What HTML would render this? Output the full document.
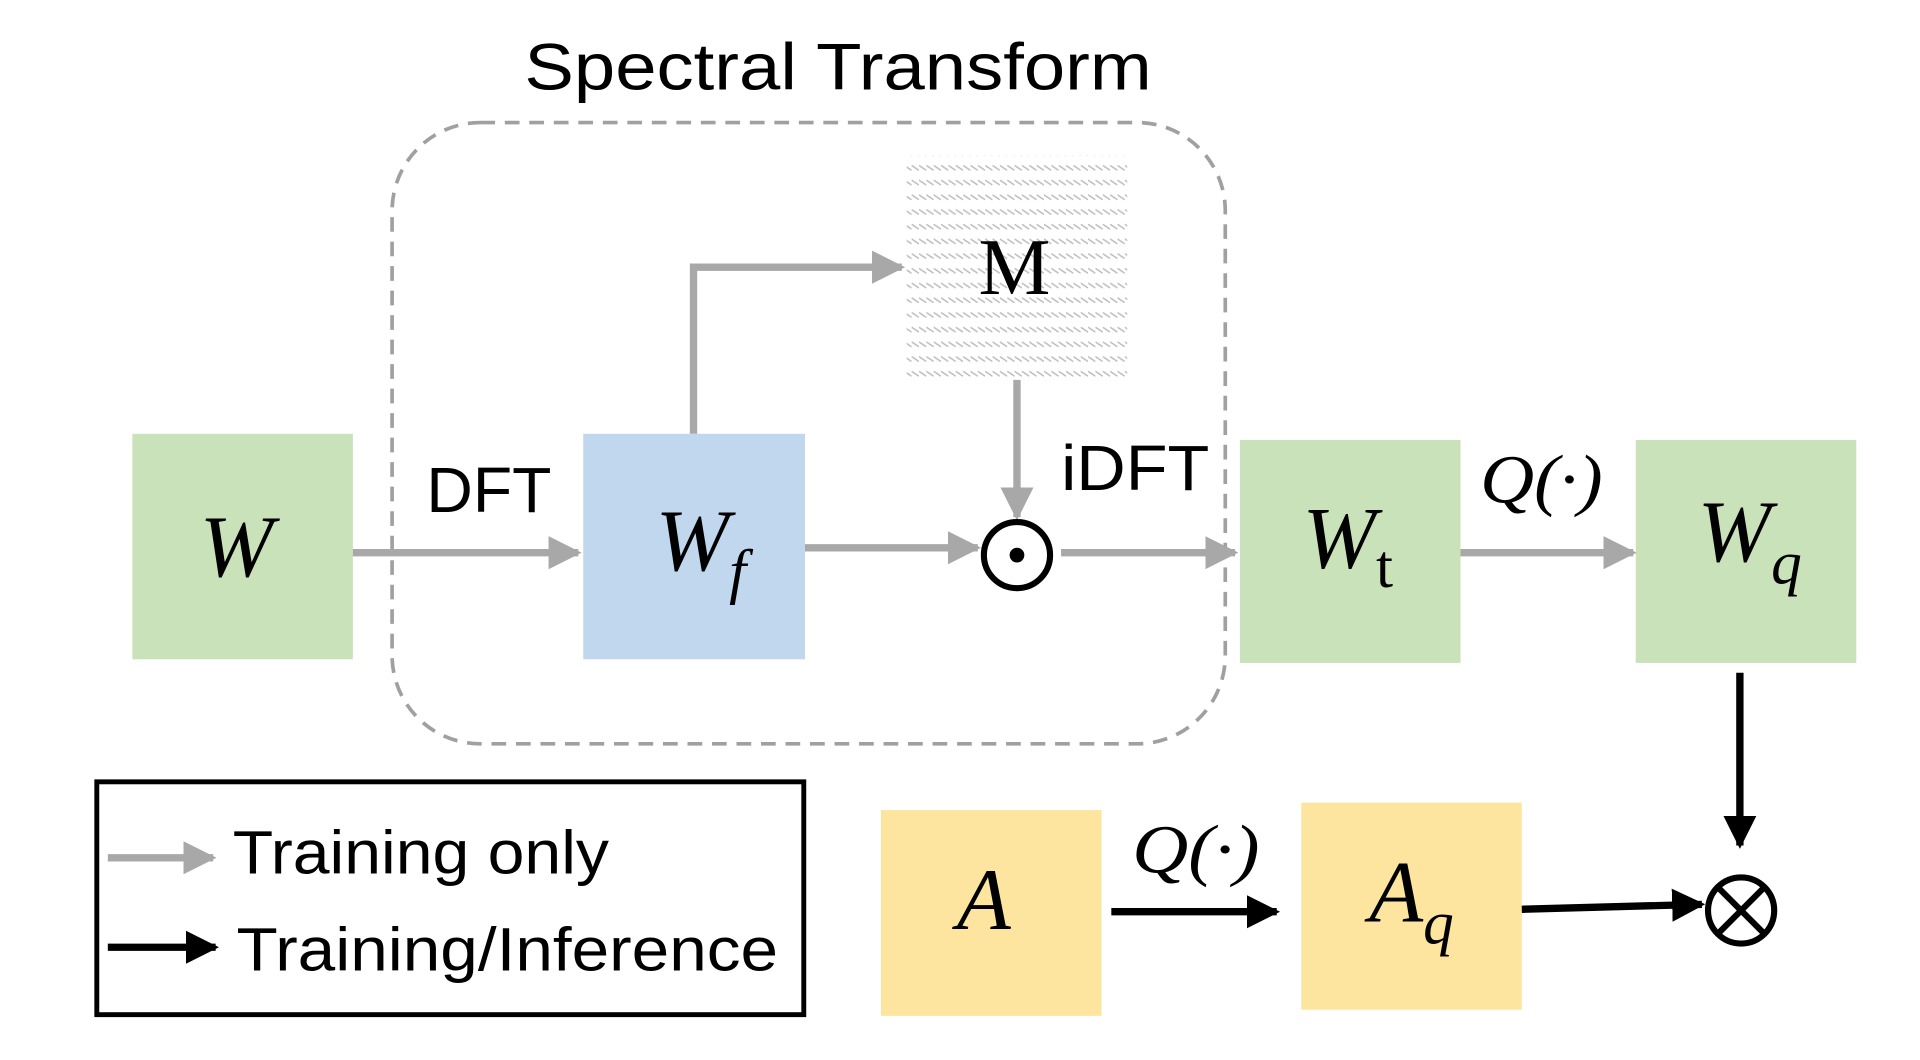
<!DOCTYPE html>
<html><head><meta charset="utf-8"><style>
html,body{margin:0;padding:0;background:#fff;width:1920px;height:1060px;overflow:hidden}
svg{display:block}
.sans{font-family:"Liberation Sans",sans-serif}
.ser{font-family:"Liberation Serif",serif;font-style:italic}
</style></head><body>
<svg width="1920" height="1060" viewBox="0 0 1567 865" preserveAspectRatio="none" xmlns="http://www.w3.org/2000/svg">
<defs>
<pattern id="hatch" width="6" height="12" patternUnits="userSpaceOnUse">
<rect width="6" height="12" fill="#fff"/>
<path d="M0 3 L6 7" stroke="#bbb" stroke-width="1.2"/>
</pattern>
<marker id="ag" viewBox="0 0 10 10" refX="9" refY="5" markerWidth="4.5" markerHeight="5" orient="auto"><path d="M0 0 L10 5 L0 10 z" fill="#a8a8a8"/></marker>
<marker id="ab" viewBox="0 0 10 10" refX="9" refY="5" markerWidth="4.5" markerHeight="5" orient="auto"><path d="M0 0 L10 5 L0 10 z" fill="#000"/></marker>
</defs>
<text x="428" y="73" class="sans" font-size="54" textLength="512" lengthAdjust="spacingAndGlyphs">Spectral Transform</text>
<rect x="320" y="100" width="680" height="507" rx="72" fill="none" stroke="#a0a0a0" stroke-width="3" stroke-dasharray="12 8"/>
<rect x="108" y="354" width="180" height="184" fill="#cae2b9"/>
<rect x="476" y="354" width="181" height="184" fill="#c0d7ee"/>
<rect x="740" y="127" width="180" height="183" fill="url(#hatch)"/>
<rect x="1012" y="359" width="180" height="182" fill="#cae2b9"/>
<rect x="1335" y="359" width="180" height="182" fill="#cae2b9"/>
<rect x="719" y="661" width="180" height="168" fill="#fee59f"/>
<rect x="1062" y="655" width="180" height="169" fill="#fee59f"/>
<g stroke="#a8a8a8" stroke-width="6" fill="none">
<line x1="288" y1="451" x2="472" y2="451" marker-end="url(#ag)"/>
<line x1="657" y1="447" x2="798" y2="447" marker-end="url(#ag)"/>
<line x1="866" y1="451" x2="1008" y2="451" marker-end="url(#ag)"/>
<line x1="1192" y1="451" x2="1333" y2="451" marker-end="url(#ag)"/>
<polyline points="566,354 566,218 736,218" marker-end="url(#ag)"/>
<line x1="830" y1="310" x2="830" y2="422" marker-end="url(#ag)"/>
<line x1="88" y1="700" x2="174" y2="700" marker-end="url(#ag)"/>
</g>
<g stroke="#000" stroke-width="6" fill="none">
<line x1="1420" y1="549" x2="1420" y2="690" marker-end="url(#ab)"/>
<line x1="907" y1="744" x2="1042" y2="744" marker-end="url(#ab)"/>
<line x1="1242" y1="742" x2="1389" y2="738" marker-end="url(#ab)"/>
<line x1="88" y1="773" x2="176" y2="773" marker-end="url(#ab)"/>
</g>
<circle cx="830" cy="453" r="27" fill="#fff" stroke="#000" stroke-width="5"/>
<circle cx="830" cy="453" r="6" fill="#000"/>
<circle cx="1421" cy="743" r="27" fill="#fff" stroke="#000" stroke-width="5"/>
<line x1="1402" y1="724" x2="1440" y2="762" stroke="#000" stroke-width="5"/>
<line x1="1440" y1="724" x2="1402" y2="762" stroke="#000" stroke-width="5"/>
<text x="348" y="418" class="sans" font-size="52" textLength="102" lengthAdjust="spacingAndGlyphs">DFT</text>
<text x="866" y="400" class="sans" font-size="52" textLength="121" lengthAdjust="spacingAndGlyphs">iDFT</text>
<text x="1208" y="410" class="ser" font-size="56" textLength="100" lengthAdjust="spacingAndGlyphs">Q(·)</text>
<text x="924" y="712" class="ser" font-size="56" textLength="104" lengthAdjust="spacingAndGlyphs">Q(·)</text>
<text x="828" y="240" font-family="Liberation Serif,serif" font-size="66" text-anchor="middle">M</text>
<text x="193" y="470" class="ser" font-size="72" text-anchor="middle">W</text>
<text x="572" y="465" class="ser" font-size="72" text-anchor="middle">W<tspan font-size="50" dy="18">f</tspan></text>
<text x="1100" y="463" class="ser" font-size="72" text-anchor="middle">W<tspan font-size="50" dy="16" font-style="normal">t</tspan></text>
<text x="1428" y="458" class="ser" font-size="72" text-anchor="middle">W<tspan font-size="50" dy="18">q</tspan></text>
<text x="803" y="758" class="ser" font-size="72" text-anchor="middle">A</text>
<text x="1152" y="752" class="ser" font-size="72" text-anchor="middle">A<tspan font-size="50" dy="18">q</tspan></text>
<rect x="79" y="638" width="577" height="190" fill="none" stroke="#000" stroke-width="4"/>
<text x="190" y="713" class="sans" font-size="50" textLength="307" lengthAdjust="spacingAndGlyphs">Training only</text>
<text x="193" y="792" class="sans" font-size="50" textLength="442" lengthAdjust="spacingAndGlyphs">Training/Inference</text>
</svg>
</body></html>
